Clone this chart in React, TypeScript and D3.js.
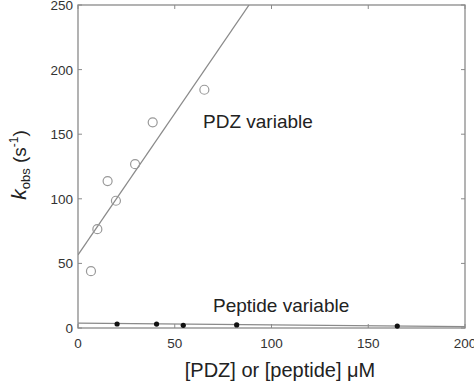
import React, { useEffect, useRef } from 'react';
import * as d3 from 'd3';

// PDZ variable (open circles)
const pdzX = [6.7, 10, 15.3, 19.6, 29.5, 38.6, 65.3];
const pdzY = [44, 76.5, 113.7, 98.5, 126.8, 159.2, 184.4];
// linear fit for PDZ variable
const pdzFitX = [0, 88.4];
const pdzFitY = [56.6, 250];

// Peptide variable (filled dots)
const pepX = [20.2, 40.6, 54.4, 82, 165];
const pepY = [3.1, 3.0, 2.1, 2.4, 1.5];
const pepFitX = [0, 200];
const pepFitY = [3.7, 1.0];

const xTicks = [0, 50, 100, 150, 200];
const yTicks = [0, 50, 100, 150, 200, 250];

const W = 474;
const H = 386;

const App: React.FC = () => {
    const svgRef = useRef<SVGSVGElement>(null);

    useEffect(() => {
        if (!svgRef.current) return;
        const svg = d3.select(svgRef.current);
        svg.selectAll('*').remove();

        const left = 78, right = 465, top = 5, bottom = 328;
        const font = 'Liberation Sans, Arial, sans-serif';
        const axisColor = '#8a8a8a';

        const x = d3.scaleLinear().domain([0, 200]).range([left, right]);
        const y = d3.scaleLinear().domain([0, 250]).range([bottom, top]);

        svg.append('rect').attr('width', W).attr('height', H).attr('fill', '#fff');

        svg.append('defs').append('clipPath').attr('id', 'plot-clip')
            .append('rect')
            .attr('x', left).attr('y', top)
            .attr('width', right - left).attr('height', bottom - top);

        // box
        svg.append('rect')
            .attr('x', left).attr('y', top)
            .attr('width', right - left).attr('height', bottom - top)
            .attr('fill', 'none')
            .attr('stroke', axisColor)
            .attr('stroke-width', 1.3);

        // inward ticks on all four sides
        const tk = 4;
        const ticks = svg.append('g').attr('stroke', axisColor).attr('stroke-width', 1);
        xTicks.forEach(t => {
            ticks.append('line').attr('x1', x(t)).attr('x2', x(t)).attr('y1', bottom).attr('y2', bottom - tk);
            ticks.append('line').attr('x1', x(t)).attr('x2', x(t)).attr('y1', top).attr('y2', top + tk);
        });
        yTicks.forEach(t => {
            ticks.append('line').attr('x1', left).attr('x2', left + tk).attr('y1', y(t)).attr('y2', y(t));
            ticks.append('line').attr('x1', right).attr('x2', right - tk).attr('y1', y(t)).attr('y2', y(t));
        });

        // tick labels
        svg.append('g').selectAll('text').data(xTicks).enter().append('text')
            .attr('x', d => x(d))
            .attr('y', bottom + 20)
            .attr('text-anchor', 'middle')
            .attr('font-family', font)
            .attr('font-size', 13.5)
            .attr('fill', '#333')
            .text(d => d);

        svg.append('g').selectAll('text').data(yTicks).enter().append('text')
            .attr('x', left - 5)
            .attr('y', d => y(d) + 5)
            .attr('text-anchor', 'end')
            .attr('font-family', font)
            .attr('font-size', 13.5)
            .attr('fill', '#333')
            .text(d => d);

        const plot = svg.append('g').attr('clip-path', 'url(#plot-clip)');
        const line = d3.line<[number, number]>().x(d => x(d[0])).y(d => y(d[1]));

        plot.append('path')
            .datum(pdzFitX.map((v, i) => [v, pdzFitY[i]] as [number, number]))
            .attr('d', line)
            .attr('fill', 'none')
            .attr('stroke', '#8a8a8a')
            .attr('stroke-width', 1.3);

        plot.append('path')
            .datum(pepFitX.map((v, i) => [v, pepFitY[i]] as [number, number]))
            .attr('d', line)
            .attr('fill', 'none')
            .attr('stroke', '#8a8a8a')
            .attr('stroke-width', 1.3);

        svg.append('g').selectAll('circle').data(pdzX).enter().append('circle')
            .attr('cx', d => x(d))
            .attr('cy', (d, i) => y(pdzY[i]))
            .attr('r', 4.5)
            .attr('fill', 'none')
            .attr('stroke', '#999')
            .attr('stroke-width', 1.2);

        svg.append('g').selectAll('circle').data(pepX).enter().append('circle')
            .attr('cx', d => x(d))
            .attr('cy', (d, i) => y(pepY[i]))
            .attr('r', 2.6)
            .attr('fill', '#111');

        // annotations
        svg.append('text')
            .attr('x', 203).attr('y', 128)
            .attr('font-family', font).attr('font-size', 19).attr('fill', '#222')
            .text('PDZ variable');

        svg.append('text')
            .attr('x', 213).attr('y', 312)
            .attr('font-family', font).attr('font-size', 19).attr('fill', '#222')
            .text('Peptide variable');

        // axis titles
        svg.append('text')
            .attr('x', 280).attr('y', 377)
            .attr('text-anchor', 'middle')
            .attr('font-family', font).attr('font-size', 20).attr('fill', '#222')
            .text('[PDZ] or [peptide] μM');

        const yl = svg.append('text')
            .attr('transform', 'translate(26,165) rotate(-90)')
            .attr('text-anchor', 'middle')
            .attr('font-family', font).attr('font-size', 19).attr('fill', '#222');
        yl.append('tspan').attr('font-style', 'italic').attr('font-size', 21).text('k');
        yl.append('tspan').attr('font-size', 13).attr('dy', 4).text('obs');
        yl.append('tspan').attr('dy', -4).text(' (s');
        yl.append('tspan').attr('font-size', 12).attr('dy', -8).text('-1');
        yl.append('tspan').attr('dy', 8).text(')');
    }, []);

    return (
        <svg
            ref={svgRef}
            width={W}
            height={H}
            style={{ position: 'absolute', left: 0, top: 0 }}
        />
    );
};

export default App;
